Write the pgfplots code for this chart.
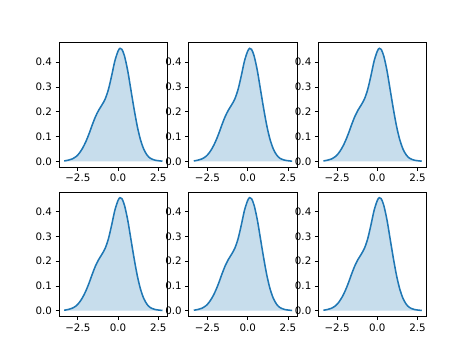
\documentclass[border=0pt]{standalone}
\usepackage{fontspec}
\setmainfont{DejaVu Sans}
\usepackage{pgfplots}
\usepackage{pgfplotstable}
\pgfplotsset{compat=1.18}
\definecolor{c0}{HTML}{1F77B4}
\pgfplotstableread{
x y
-3.35 0.002
-3.10 0.005
-2.85 0.010
-2.60 0.020
-2.40 0.034
-2.20 0.054
-2.00 0.080
-1.80 0.112
-1.60 0.148
-1.40 0.181
-1.20 0.207
-1.00 0.228
-0.80 0.252
-0.60 0.290
-0.40 0.345
-0.20 0.405
0.00 0.445
0.12 0.456
0.24 0.452
0.40 0.425
0.60 0.366
0.80 0.288
1.00 0.210
1.20 0.140
1.40 0.086
1.60 0.049
1.80 0.026
2.00 0.013
2.30 0.005
2.76 0.001
}\kde
\pgfplotsset{panel/.style={
  scale only axis, width=105.03pt, height=120.96pt,
  anchor=south west,
  xmin=-3.655, xmax=3.06, ymin=-0.0228, ymax=0.479,
  xtick={-2.5,0,2.5}, xticklabels={−2.5,0.0,2.5},
  ytick={0,0.1,0.2,0.3,0.4}, yticklabels={0.0,0.1,0.2,0.3,0.4},
  xtick pos=lower, ytick pos=left, tick align=outside,
  major tick length=3.5pt,
  every tick/.style={black, line width=0.8pt},
  axis line style={line width=0.8pt},
  tick label style={font=\fontsize{10}{12}\selectfont},
  /pgf/number format/assume math mode=true,
}}
\newcommand\panel[2]{%
\begin{axis}[panel, at={(#1,#2)}]
\addplot[draw=none, fill=c0, fill opacity=0.25, smooth] table[x=x,y=y]{\kde} \closedcycle;
\addplot[c0, line width=1.5pt, smooth] table[x=x,y=y]{\kde};
\end{axis}}
\begin{document}
\begin{tikzpicture}
\path[use as bounding box] (0,0) rectangle (460.8pt,345.6pt);
\panel{57.6pt}{183.17pt}
\panel{183.63pt}{183.17pt}
\panel{309.66pt}{183.17pt}
\panel{57.6pt}{38.016pt}
\panel{183.63pt}{38.016pt}
\panel{309.66pt}{38.016pt}
\end{tikzpicture}
\end{document}
